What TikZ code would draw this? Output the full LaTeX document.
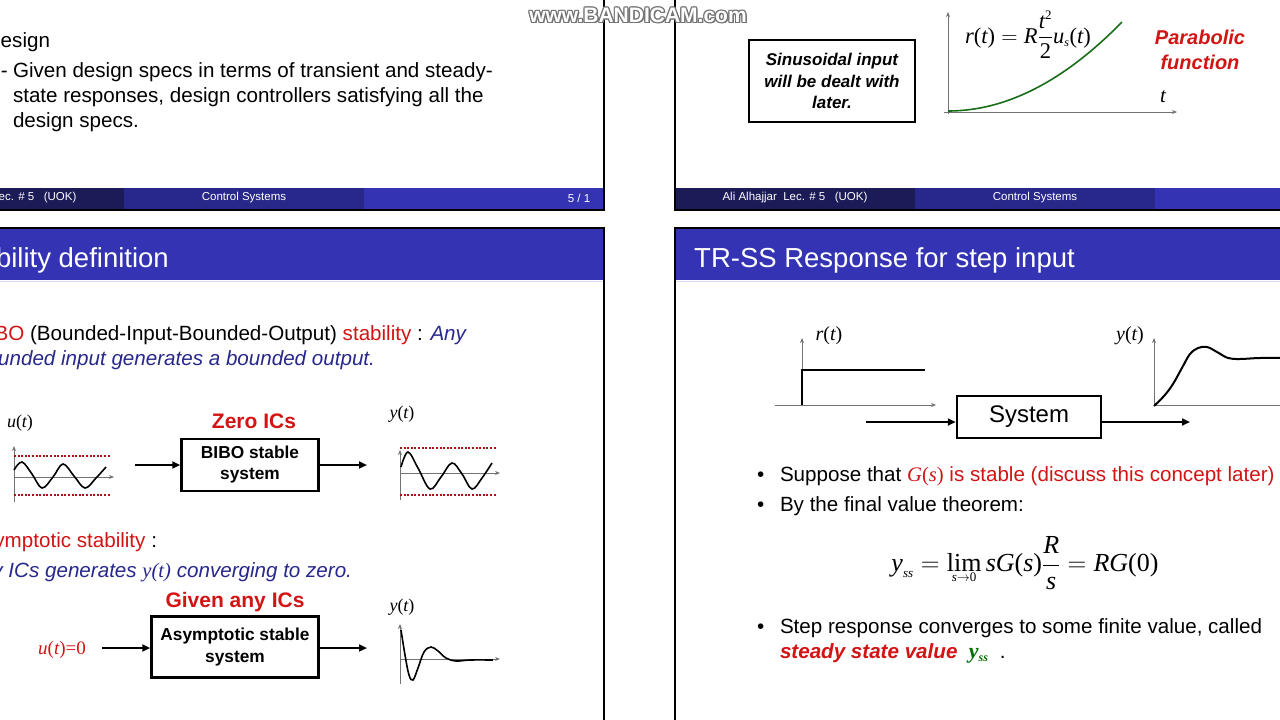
\RequirePackage{fix-cm}
\documentclass[tikz,border=0pt]{standalone}
\usepackage{fontspec}
\setmainfont{Liberation Sans}
\newfontfamily\tms{Liberation Serif}
\usetikzlibrary{arrows.meta}
\definecolor{beamblue}{RGB}{51,51,179}
\definecolor{footA}{RGB}{27,27,88}
\definecolor{footB}{RGB}{40,40,138}
\definecolor{footC}{RGB}{51,51,179}
\definecolor{slred}{RGB}{210,20,20}
\definecolor{dotred}{RGB}{175,15,25}
\definecolor{slnavy}{RGB}{40,40,140}
\definecolor{slgreen}{RGB}{0,110,0}
\definecolor{curvegreen}{RGB}{25,110,25}
\newcommand\fsz[1]{\fontsize{#1}{#1}\selectfont}
\newcommand\tmi[1]{{\tms\itshape #1}}
\newcommand\tmu[1]{{\tms #1}}
\tikzset{
  body/.style={font=\fsz{20.6}, anchor=base west, inner sep=0pt, outer sep=0pt},
  foottxt/.style={font=\fsz{11.5}, text=white, inner sep=0pt},
  titletxt/.style={font=\fsz{27.5}, text=white, inner sep=0pt},
  blkbox/.style={draw, line width=2.5pt, align=center, inner sep=0pt, fill=white},
  flowar/.style={line width=2pt, -{Triangle[length=8pt,width=7pt]}},
  axln/.style={line width=0.8pt, draw=black!55, -{Stealth[length=5pt,width=4pt]}},
  reddot/.style={line width=2.4pt, draw=dotred, dash pattern=on 2pt off 1.6pt},
  sigln/.style={line width=1.6pt},
  framel/.style={line width=1.5pt},
  wm/.style={font=\fsz{21}\bfseries, inner sep=0pt}
}
\begin{document}
\begin{tikzpicture}[x=1pt,y=-1pt]
\useasboundingbox (0,0) rectangle (1280,720);
\clip (0,0) rectangle (1280,720);
\fill[white] (0,0) rectangle (1280,720);

% ---------- top-left slide ----------
\fill[footA] (-116,188) rectangle (124,210);
\fill[footB] (124,188) rectangle (364,210);
\fill[footC] (364,188) rectangle (604,210);
\draw[framel] (604,-5) -- (604,210) -- (-120,210);
\node[foottxt] (fa1) at (4,198) {Ali Alhajjar\ \ Lec. \# 5\ \ \ (UOK)};
\node[foottxt] (fb1) at (244,198) {Control Systems};
\node[foottxt] (fc1) at (579,198) {5 / 1};
\node[body, anchor=base east] (design) at (50,47) {Design};
\node[body] (dash) at (1,77) {-};
\node[body] (tl1) at (13,77) {Given design specs in terms of transient and steady-};
\node[body] (tl2) at (13,102) {state responses, design controllers satisfying all the};
\node[body] (tl3) at (13,127) {design specs.};

% ---------- top-right slide ----------
\fill[footA] (675,188) rectangle (915,210);
\fill[footB] (915,188) rectangle (1155,210);
\fill[footC] (1155,188) rectangle (1395,210);
\draw[framel] (675,-5) -- (675,210) -- (1290,210);
\node[foottxt] (fa2) at (795,198) {Ali Alhajjar\ \ Lec. \# 5\ \ \ (UOK)};
\node[foottxt] (fb2) at (1035,198) {Control Systems};
\node[blkbox, minimum width=166, minimum height=82, font=\fontsize{17}{21.5}\selectfont\bfseries\itshape] (sinbox) at (832,81) {Sinusoidal input\\will be dealt with\\later.};
\draw[axln] (948,114) -- (948,12);
\draw[axln] (944,112) -- (1177,112);
\draw[curvegreen, line width=1.6pt] plot[domain=0:1, samples=40] ({948+174*\x}, {111-89*\x*\x});
\node[font=\fsz{22.5}] (rform) at (1028,35) {$\displaystyle \mbox{\tmi{r}\tmu{(}\tmi{t}\tmu{)}} = \mbox{\tmi{R}}\frac{\mbox{\tmi{t}}^{\mbox{\fsz{13}\tmu{2}}}}{\mbox{\tmu{2}}}\mbox{\tmi{u}}_{\mbox{\fsz{12}\tmi{s}}}\mbox{\tmu{(}\tmi{t}\tmu{)}}$};
\node[font=\fsz{21}] (tlab) at (1163,97) {\tmi{t}};
\node[font=\fontsize{20}{25}\selectfont\bfseries\itshape, text=slred, align=center] (parab) at (1200,50) {Parabolic\\function};

% ---------- bottom-left slide ----------
\fill[beamblue] (-116,228) rectangle (604,280);
\draw[blue!15, line width=1pt] (-116,281) -- (603,281);
\draw[framel] (-120,228) -- (604,228) -- (604,725);
\node[titletxt, anchor=base east] (stitle) at (169,267) {Stability definition};
\node[body, anchor=base east] (bibo1) at (466,340) {{\color{slred}BIBO} (Bounded-Input-Bounded-Output) {\color{slred}stability} : {\color{slnavy}\itshape Any}};
\node[body, anchor=base east, text=slnavy, font=\fsz{20.6}\itshape] (bibo2) at (375,365) {bounded input generates a bounded output.};
\node[body, anchor=base east] (asy1) at (157,547) {{\color{slred}Asymptotic stability} :};
\node[body, anchor=base east, text=slnavy, font=\fsz{20.6}\itshape] (asy2) at (352,577) {Any ICs generates \tmi{y}\tmu{(}\tmi{t}\tmu{)} converging to zero.};

% BIBO diagram
\node[font=\fsz{18}] (ulab) at (20,423) {\tmi{u}\tmu{(}\tmi{t}\tmu{)}};
\draw[axln] (14,502) -- (14,446);
\draw[axln] (14,477) -- (114,477);
\draw[reddot] (14,456) -- (110,456);
\draw[reddot] (14,495) -- (110,495);
\draw[sigln] plot[smooth, tension=0.6] coordinates {(14,470) (22,462) (32,474) (42,488) (53,477) (63,464) (74,476) (85,488) (96,478) (106,467)};
\node[blkbox, minimum width=137, minimum height=52, font=\fontsize{17.3}{21}\selectfont\bfseries] (bibobox) at (250,465) {BIBO stable\\system};
\node[font=\fsz{21}\bfseries, text=slred] (zic) at (254,421) {Zero ICs};
\coordinate (bin) at (135,465);
\coordinate (bout) at (367,465);
\draw[flowar] (bin) -- (bibobox);
\draw[flowar] (bibobox) -- (bout);
\node[font=\fsz{18}] (ylab1) at (402,414) {\tmi{y}\tmu{(}\tmi{t}\tmu{)}};
\draw[axln] (400,500) -- (400,450);
\draw[axln] (400,473) -- (500,473);
\draw[reddot] (400,448) -- (497,448);
\draw[reddot] (400,495) -- (497,495);
\draw[sigln] plot[smooth, tension=0.6] coordinates {(401,467) (408,452) (418,468) (430,489) (441,477) (452,463) (462,474) (472,489) (482,478) (492,463)};

% Asymptotic diagram
\node[font=\fsz{21}\bfseries, text=slred] (gic) at (235,602) {Given any ICs};
\node[blkbox, minimum width=167, minimum height=61, font=\fontsize{17.3}{22}\selectfont\bfseries] (asybox) at (235,647) {Asymptotic stable\\system};
\node[font=\fsz{19}, text=slred] (uzero) at (62,650) {\tmi{u}\tmu{(}\tmi{t}\tmu{)=0}};
\coordinate (ain) at (102,648);
\coordinate (aout) at (367,648);
\draw[flowar] (ain) -- (ain -| asybox.west);
\draw[flowar] (asybox.east |- aout) -- (aout);
\node[font=\fsz{18}] (ylab2) at (402,607) {\tmi{y}\tmu{(}\tmi{t}\tmu{)}};
\draw[axln] (400,684) -- (400,624);
\draw[axln] (400,659) -- (500,659);
\draw[sigln] plot[smooth, tension=0.6] coordinates {(401,630) (405,655) (409,675) (413,680) (418,668) (424,652) (431,647) (438,651) (446,658) (456,661) (470,660) (493,660)};

% ---------- bottom-right slide ----------
\fill[beamblue] (675,228) rectangle (1395,280);
\draw[blue!15, line width=1pt] (676,281) -- (1395,281);
\draw[framel] (675,725) -- (675,228) -- (1290,228);
\node[titletxt, anchor=base west] (rtitle) at (694,267) {TR-SS Response for step input};

\draw[axln] (802,406) -- (802,338);
\draw[axln] (775,405) -- (936,405);
\draw[line width=2.2pt] (802,405) -- (802,370) -- (925,370);
\node[font=\fsz{20}] (rlab) at (829,336) {\tmi{r}\tmu{(}\tmi{t}\tmu{)}};
\node[blkbox, minimum width=144, minimum height=42, font=\fsz{24}] (sysbox) at (1029,417) {System};
\coordinate (sin) at (866,422);
\coordinate (sout) at (1190,422);
\draw[flowar] (sin) -- (sin -| sysbox.west);
\draw[flowar] (sysbox.east |- sout) -- (sout);
\draw[axln] (1154,406) -- (1154,338);
\draw[line width=0.8pt, draw=black!55] (1154,405) -- (1285,405);
\node[font=\fsz{20}] (ylab3) at (1130,336) {\tmi{y}\tmu{(}\tmi{t}\tmu{)}};
\draw[line width=2pt] plot[smooth, tension=0.6] coordinates {(1154,406) (1164,396) (1173,384) (1183,366) (1190,354) (1198,348) (1207,347) (1217,352) (1228,358) (1240,359) (1260,358) (1285,358)};

\node[body] (bu1) at (757,481) {\textbullet};
\node[body] (bl1) at (780,481) {Suppose that {\color{slred}\tmi{G}\tmu{(}\tmi{s}\tmu{)} is stable (discuss this concept later)}};
\node[body] (bu2) at (757,511) {\textbullet};
\node[body] (bl2) at (780,511) {By the final value theorem:};
\node[font=\fsz{26}] (eq) at (1025,563) {$\displaystyle \mbox{\tmi{y}}_{\mbox{\fsz{13}\tmi{ss}}} = \mathop{\mbox{\tmu{lim}}}\limits_{\mbox{\fsz{13}\tmi{s}$\to$\tmu{0}}} \mbox{\tmi{sG}\tmu{(}\tmi{s}\tmu{)}}\frac{\mbox{\tmi{R}}}{\mbox{\tmi{s}}} = \mbox{\tmi{RG}\tmu{(0)}}$};
\node[body] (bu3) at (757,633) {\textbullet};
\node[body] (bl3) at (780,633) {Step response converges to some finite value, called};
\node[body] (bl4) at (780,658) {{\color{slred}\bfseries\itshape steady state value}\ \ {\color{slgreen}\fsz{22}\tmi{\bfseries y}$_{\mbox{\fsz{12}\tmi{\bfseries ss}}}$}\ \ .};

% ---------- watermark ----------
\foreach \dx/\dy in {-1/-1,0/-1,1/-1,-1/0,1/0,-1/1,0/1,1/1,1.5/1.5}
  \node[wm, text=black!55] at (638+\dx,15+\dy) {www.BANDICAM.com};
\node[wm, text=white] (wmark) at (638,15) {www.BANDICAM.com};
\end{tikzpicture}
\end{document}
